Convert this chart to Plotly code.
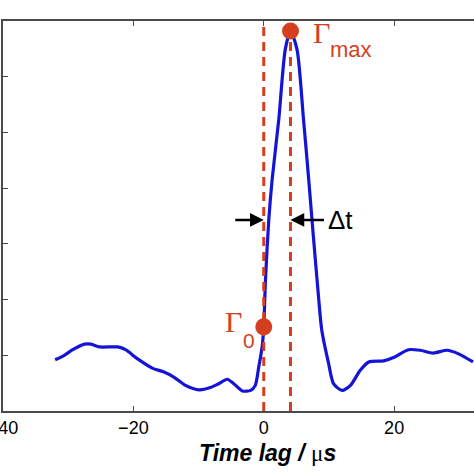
import plotly.graph_objects as go

# ---- data ----
lag_us = [-32.0, -30.6, -29.3, -27.5, -26.5, -25.2, -22.4, -21.2, -19.4, -17.1, -15.3,
          -13.8, -12.0, -9.9, -8.2, -6.9, -5.6, -4.6, -3.3, -2.0, -1.3, -0.77, -0.25,
          0.0, 0.26, 0.77, 1.28, 2.3, 3.3, 4.1, 5.1, 6.1, 6.9, 7.4, 8.4, 8.9, 9.95,
          10.7, 12.0, 13.3, 14.8, 16.1, 18.4, 19.9, 22.2, 24.0, 26.0, 28.1, 29.8, 32.1]
corr = [0.92, 1.00, 1.10, 1.20, 1.20, 1.15, 1.15, 1.10, 0.94, 0.77, 0.70,
        0.61, 0.46, 0.38, 0.42, 0.49, 0.57, 0.49, 0.36, 0.37, 0.46, 0.79, 1.15,
        1.51, 2.35, 3.43, 4.15, 5.23, 6.49, 6.82, 6.49, 5.23, 4.15, 3.43, 2.05, 1.45, 0.85,
        0.49, 0.37, 0.46, 0.73, 0.88, 0.90, 0.96, 1.10, 1.09, 1.04, 1.09, 1.03, 0.88]
gamma_x = [0.0, 4.1]
gamma_y = [1.51, 6.82]
vlines_x = [0.0, 4.1]
arrow_y = 3.43
x_ticks = [-40, -20, 0, 20, 40]

RED = "#d4401f"
BLUE = "#1414d6"
AX = "#4a4a4a"

fig = go.Figure()
fig.add_trace(go.Scatter(x=lag_us, y=corr, mode="lines",
                         line=dict(color=BLUE, width=3.2, shape="spline", smoothing=0.7),
                         showlegend=False))

for xv in vlines_x:
    fig.add_shape(type="line", xref="x", yref="paper", x0=xv, x1=xv, y0=0, y1=1,
                  line=dict(color=RED, width=3, dash="9px,6px"))

fig.add_trace(go.Scatter(x=gamma_x, y=gamma_y, mode="markers",
                         marker=dict(color=RED, size=17), showlegend=False))

# Gamma labels
fig.add_annotation(x=gamma_x[0], y=gamma_y[0], text="Γ", showarrow=False,
                   font=dict(family="Liberation Serif", size=30, color=RED),
                   xanchor="right", yanchor="middle", xshift=-20, yshift=5)
fig.add_annotation(x=gamma_x[0], y=gamma_y[0], text="0", showarrow=False,
                   font=dict(family="Liberation Sans", size=21, color=RED),
                   xanchor="right", yanchor="middle", xshift=-7, yshift=-14)
fig.add_annotation(x=gamma_x[1], y=gamma_y[1], text="Γ", showarrow=False,
                   font=dict(family="Liberation Serif", size=30, color=RED),
                   xanchor="left", yanchor="middle", xshift=21, yshift=-1)
fig.add_annotation(x=gamma_x[1], y=gamma_y[1], text="max", showarrow=False,
                   font=dict(family="Liberation Sans", size=22, color=RED),
                   xanchor="left", yanchor="middle", xshift=38, yshift=-18)

# Delta t arrows
fig.add_annotation(x=vlines_x[0], y=arrow_y, ax=-30, ay=0, text="", showarrow=True,
                   arrowhead=2, arrowsize=1.1, arrowwidth=2.5, arrowcolor="black",
                   axref="pixel", ayref="pixel")
fig.add_annotation(x=vlines_x[1], y=arrow_y, ax=35, ay=0, text="", showarrow=True,
                   arrowhead=2, arrowsize=1.1, arrowwidth=2.5, arrowcolor="black",
                   axref="pixel", ayref="pixel")
fig.add_annotation(x=vlines_x[1], y=arrow_y, text="Δt", showarrow=False,
                   font=dict(family="Liberation Sans", size=26, color="black"),
                   xanchor="left", yanchor="middle", xshift=36, yshift=0)

# x title
fig.add_annotation(xref="x", yref="paper", x=-10.2, y=-0.068, xanchor="left", yanchor="top",
                   text="<b><i>Time lag / </i></b><span style='font-family:Liberation Serif'>μ</span><b><i>s</i></b>",
                   showarrow=False,
                   font=dict(family="Liberation Sans", size=23, color="black"))

fig.update_layout(
    width=474, height=474,
    margin=dict(l=3, r=0, t=21, b=63),
    paper_bgcolor="white", plot_bgcolor="white",
    template="none",
    showlegend=False,
)
fig.update_xaxes(range=[-40, 32.25], tickvals=x_ticks, ticks="inside", ticklen=5,
                 tickcolor=AX, showline=True, linecolor=AX, linewidth=1.5,
                 mirror="ticks", showgrid=False, zeroline=False, automargin=False,
                 ticklabeloverflow="allow",
                 tickfont=dict(family="Liberation Sans", size=18, color="black"))
fig.update_yaxes(range=[0, 7], dtick=1, ticks="inside", ticklen=5, tickcolor=AX,
                 showline=True, linecolor=AX, linewidth=1.5, mirror=False,
                 showgrid=False, zeroline=False, showticklabels=False, automargin=False)

fig.write_html("out.html")
